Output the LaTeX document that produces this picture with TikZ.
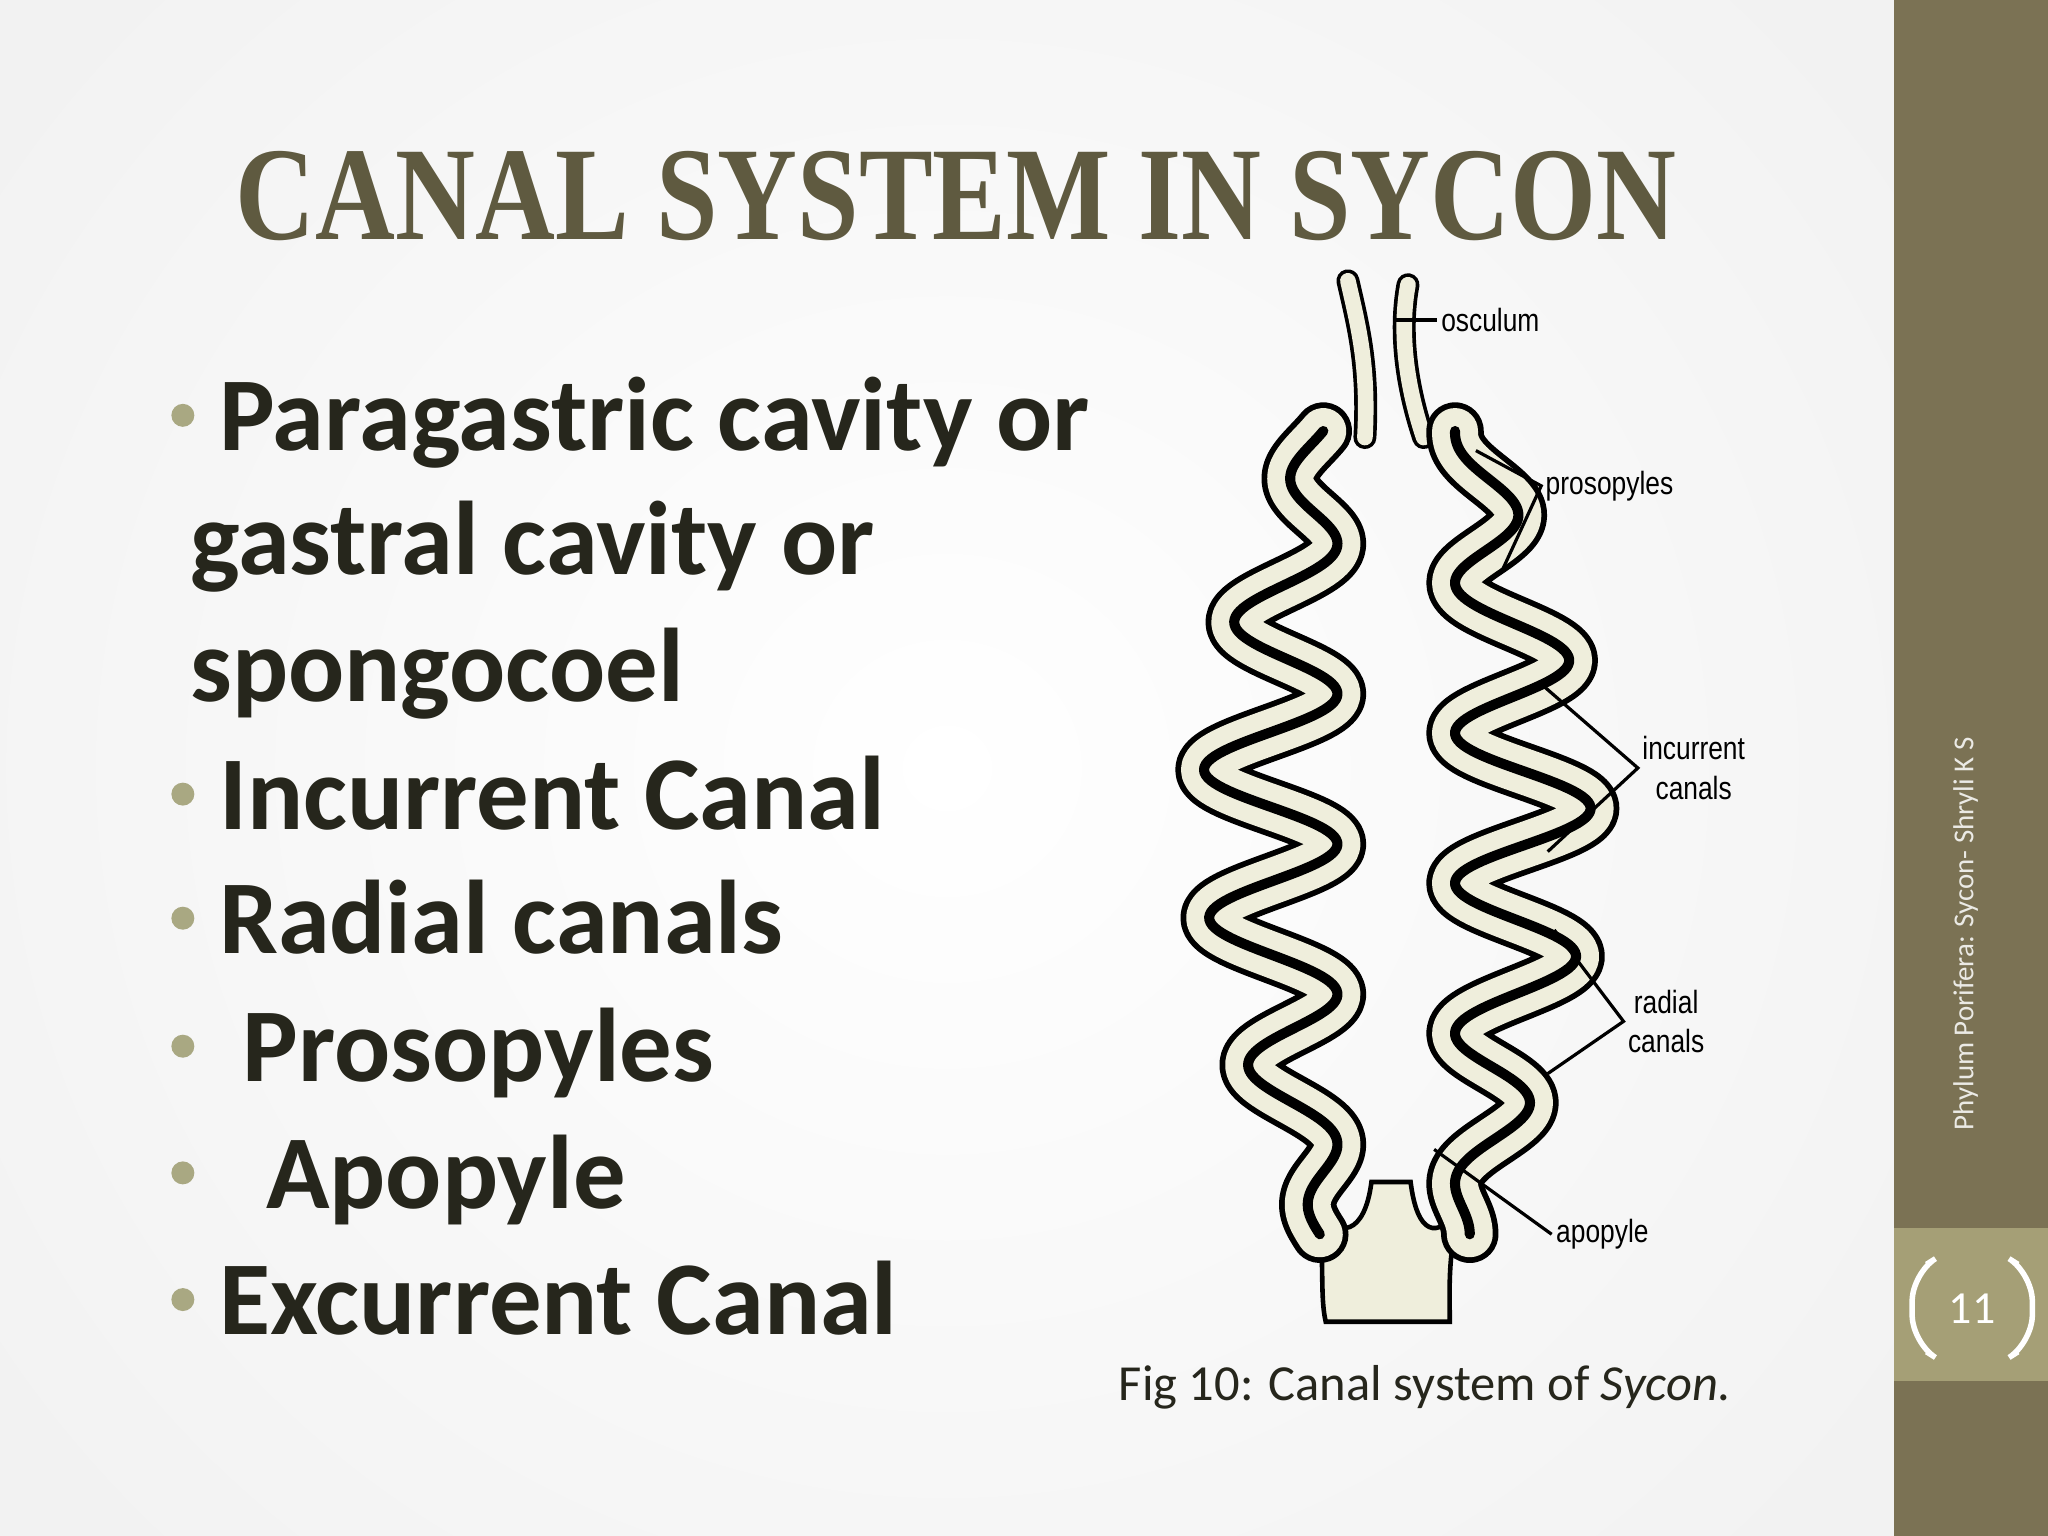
\documentclass[tikz,border=0pt]{standalone}
\usepackage{fontspec}
\setmainfont{Carlito}
\newfontfamily\titlefont{Liberation Serif}
\newfontfamily\lblfont{Liberation Sans}
\begin{document}
\begin{tikzpicture}[x=0.01cm,y=-0.01cm,
  bul/.style={anchor=base west,font=\bfseries\fontsize{22.8}{26}\selectfont,text=textdark,inner sep=0},
  dot/.style={circle,fill=bulletc,inner sep=0,minimum size=5pt},
  lbl/.style={font=\lblfont\fontsize{7}{8.5}\selectfont,xscale=0.82,anchor=west,inner sep=1pt,align=center},
  lead/.style={black,line width=0.7pt},
  wallout/.style={black,line width=12.5pt,line cap=round,line join=round},
  wallin/.style={beige,line width=10pt,line cap=round,line join=round},
  canal/.style={black,line width=2.2pt,line cap=round,line join=round}]
\definecolor{titlec}{HTML}{5F5A40}
\definecolor{textdark}{HTML}{26261C}
\definecolor{bulletc}{HTML}{A9A882}
\definecolor{sidebar}{HTML}{7B7254}
\definecolor{numbox}{HTML}{A59F76}
\definecolor{beige}{HTML}{EFEEDC}
\useasboundingbox (0,0) rectangle (1568,1176);
\fill[gray!10] (0,0) rectangle (1450,1176);
\shade[inner color=white,outer color=gray!10] (-150,-250) rectangle (1600,1426);
\fill[sidebar] (1450,0) rectangle (1568,1176);
\fill[numbox] (1450,940) rectangle (1568,1057);
% title
\node[anchor=base,font=\titlefont\bfseries\fontsize{29}{32}\selectfont,text=titlec,xscale=0.83,inner sep=0] (title) at (732,183) {CANAL SYSTEM IN SYCON};
% bullets
\node[dot] (d1) at (140,318) {};
\node[bul] (t1) at (167,345) {Paragastric cavity or};
\node[bul] (t1b) at (145,440) {gastral cavity or};
\node[bul] (t1c) at (145,537) {spongocoel};
\node[dot] (d2) at (140,608) {};
\node[bul] (t2) at (167,635) {Incurrent Canal};
\node[dot] (d3) at (140,703) {};
\node[bul] (t3) at (167,730) {Radial canals};
\node[dot] (d4) at (140,801) {};
\node[bul] (t4) at (185,828) {Prosopyles};
\node[dot] (d5) at (140,898) {};
\node[bul] (t5) at (203,925) {Apopyle};
\node[dot] (d6) at (140,995) {};
\node[bul] (t6) at (167,1022) {Excurrent Canal};
% base
\draw[fill=beige,line width=1pt] (1008,925) .. controls (1015,960) and (1010,990) .. (1015,1012) -- (1110,1012) .. controls (1110,990) and (1108,960) .. (1118,925) .. controls (1100,950) and (1085,945) .. (1080,905) -- (1050,905) .. controls (1045,945) and (1025,950) .. (1008,925);
% osculum tubes
\draw[black,line width=5pt,line cap=round] (1045,335) .. controls (1048,280) and (1040,250) .. (1032,215);
\draw[beige,line width=3.4pt,line cap=round] (1045,335) .. controls (1048,280) and (1040,250) .. (1032,215);
\draw[black,line width=5pt,line cap=round] (1090,335) .. controls (1075,290) and (1072,250) .. (1078,218);
\draw[beige,line width=3.4pt,line cap=round] (1090,335) .. controls (1075,290) and (1072,250) .. (1078,218);
% folded walls
\foreach \st in {wallout,wallin,canal}{
\draw[\st] plot[variable=\t,domain=330:945,samples=300] ({1024-(4+48*sin(0.2727*(\t-300)))*(1+sin(3.1304*(\t-330)))},{\t});
\draw[\st] plot[variable=\t,domain=330:945,samples=300] ({1114+(4+48*sin(0.2727*(\t-300)))*(1+sin(3.1304*(\t-360)))},{\t});
}
% labels
\node[lbl] (osc) at (1100,245) {osculum};
\coordinate (oscp) at (1068,245);
\draw[lead] (oscp) -- (osc.west);
\node[lbl] (pro) at (1180,372) {prosopyles};
\coordinate (pro1) at (1130,345); \coordinate (pro2) at (1150,437);
\draw[lead] (pro1) -- (pro.west) -- (pro2);
\node[lbl] (inc) at (1254,588) {incurrent\\canals};
\coordinate (inc1) at (1178,522); \coordinate (inc2) at (1185,652);
\draw[lead] (inc1) -- (inc.west) -- (inc2);
\node[lbl] (rad) at (1243,782) {radial\\canals};
\coordinate (rad1) at (1190,712); \coordinate (rad2) at (1185,822);
\draw[lead] (rad1) -- (rad.west) -- (rad2);
\node[lbl] (apo) at (1188,945) {apopyle};
\coordinate (apo1) at (1098,880);
\draw[lead] (apo1) -- (apo.west);
\node[font=\fontsize{11}{12}\selectfont,text=textdark,anchor=base] (cap) at (1091,1072) {Fig 10: Canal system of \textit{Sycon.}};
% sidebar
\node[rotate=90,font=\fontsize{6.3}{8}\selectfont,text=white!85!sidebar] (side) at (1505,715) {Phylum Porifera: Sycon- Shryli K S};
\draw[white,line width=1.2pt,rounded corners=6pt] (1475,968) -- (1464,975) -- (1464,1028) -- (1475,1035);
\draw[white,line width=1.2pt,rounded corners=6pt] (1545,968) -- (1556,975) -- (1556,1028) -- (1545,1035);
\node[text=white,font=\fontsize{10}{12}\selectfont] (num) at (1510,1002) {11};
\end{tikzpicture}
\end{document}
